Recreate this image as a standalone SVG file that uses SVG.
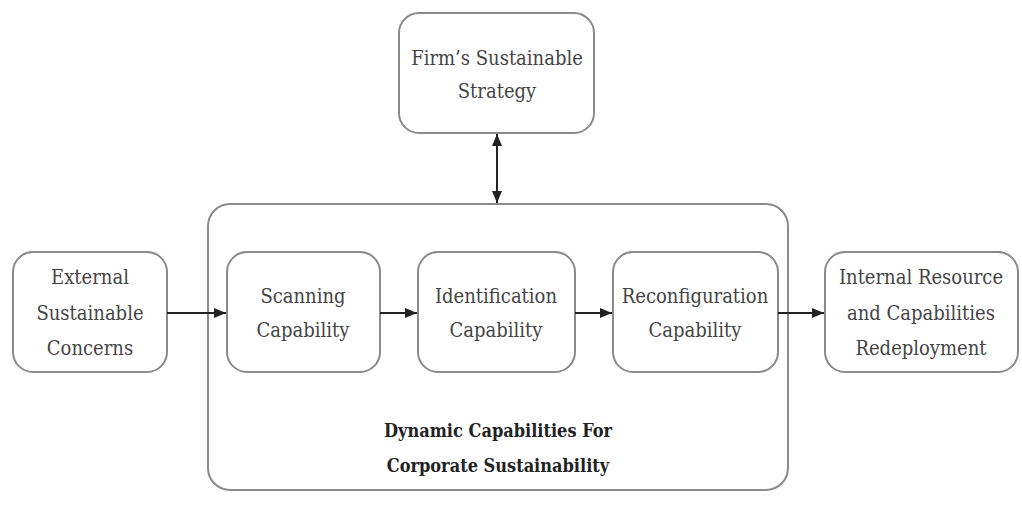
<svg xmlns="http://www.w3.org/2000/svg" width="1022" height="506" viewBox="0 0 1022 506">
<style>
.box{fill:#fff;stroke:#8a8a8a;stroke-width:2}
.t{font-family:'DejaVu Serif',serif;font-stretch:condensed;font-size:20px;fill:#444;text-anchor:middle}
.b{font-family:'DejaVu Serif',serif;font-stretch:condensed;font-size:18px;font-weight:bold;fill:#222;text-anchor:middle}
.c{stroke:#222;stroke-width:2;fill:none}
</style>
<defs>
<marker id="ah" viewBox="0 0 12 10" refX="12" refY="5" markerWidth="12" markerHeight="10" markerUnits="userSpaceOnUse" orient="auto-start-reverse">
<path d="M0,0 L12,5 L0,10 z" fill="#222"/>
</marker>
</defs>
<rect width="1022" height="506" fill="#fff"/>
<g id="container">
<rect class="box" x="208" y="204" width="580" height="286" rx="22"/>
<text class="b" x="498" y="437">Dynamic Capabilities For</text>
<text class="b" x="498" y="472">Corporate Sustainability</text>
</g>
<g id="strategy">
<rect class="box" x="399" y="13" width="195" height="120" rx="20"/>
<text class="t" x="497" y="65">Firm’s Sustainable</text>
<text class="t" x="497" y="98">Strategy</text>
</g>
<g id="external">
<rect class="box" x="13" y="252" width="154" height="120" rx="20"/>
<text class="t" x="90" y="284">External</text>
<text class="t" x="90" y="320">Sustainable</text>
<text class="t" x="90" y="355">Concerns</text>
</g>
<g id="scanning">
<rect class="box" x="227" y="252" width="153" height="120" rx="20"/>
<text class="t" x="303" y="303">Scanning</text>
<text class="t" x="303" y="337">Capability</text>
</g>
<g id="identification">
<rect class="box" x="418" y="252" width="157" height="120" rx="20"/>
<text class="t" x="496" y="303">Identification</text>
<text class="t" x="496" y="337">Capability</text>
</g>
<g id="reconfiguration">
<rect class="box" x="613" y="252" width="165" height="120" rx="20"/>
<text class="t" x="695" y="303">Reconfiguration</text>
<text class="t" x="695" y="337">Capability</text>
</g>
<g id="internal">
<rect class="box" x="825" y="252" width="193" height="120" rx="20"/>
<text class="t" x="921" y="284">Internal Resource</text>
<text class="t" x="921" y="320">and Capabilities</text>
<text class="t" x="921" y="355">Redeployment</text>
</g>
<g id="connectors">
<line class="c" x1="497" y1="134" x2="497" y2="203" marker-start="url(#ah)" marker-end="url(#ah)"/>
<line class="c" x1="167" y1="313" x2="226" y2="313" marker-end="url(#ah)"/>
<line class="c" x1="380" y1="313" x2="417" y2="313" marker-end="url(#ah)"/>
<line class="c" x1="575" y1="313" x2="612" y2="313" marker-end="url(#ah)"/>
<line class="c" x1="778" y1="313" x2="824" y2="313" marker-end="url(#ah)"/>
</g>
</svg>
